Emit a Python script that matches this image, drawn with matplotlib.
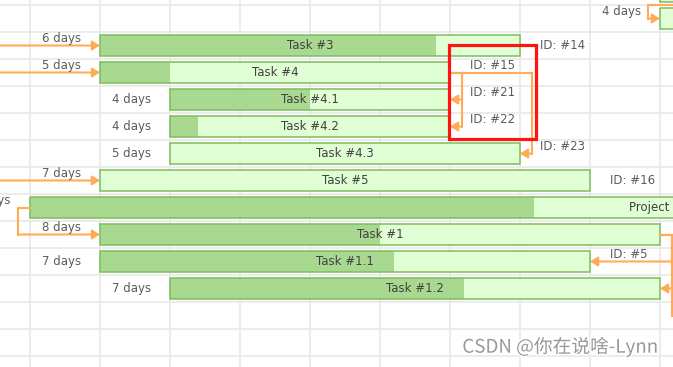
import matplotlib.pyplot as plt
import matplotlib.patheffects as pe
from matplotlib.patches import Rectangle

# Gantt data (one entry per row, row -1 and row 11 are mostly off-screen)
rows = list(range(-1, 12))
names = ['Task #2.1', 'Task #2.2', 'Task #3', 'Task #4', 'Task #4.1', 'Task #4.2',
         'Task #4.3', 'Task #5', 'Project #2', 'Task #1', 'Task #1.1', 'Task #1.2',
         'Task #1.3']
starts = [9, 9, 1, 1, 2, 2, 2, 1, 0, 1, 1, 2, 10]
durations = [3, 4, 6, 5, 4, 4, 5, 7, 18, 8, 7, 7, 3]
progress = [0.0, 0.0, 0.8, 0.2, 0.5, 0.1, 0.0, 0.0, 0.4, 0.5, 0.6, 0.6, 0.0]
ids = [12, 13, 14, 15, 21, 22, 23, 16, 1, 2, 5, 6, 7]

# links: (type, source index, target index)
links = [('fs', 0, 1), ('ff', 3, 4), ('ff', 3, 5), ('ff', 3, 6),
         ('ss', 8, 9), ('ff', 9, 10), ('ff', 9, 11), ('fs', 9, 12)]
# tasks with an incoming link from a task left of the view
left_in = [2, 3, 7]

# highlighted region (days, rows)
box_x = (5.99, 7.23)
box_y = (0.98, 4.46)

fill_c = '#e0ffd5'
prog_c = '#a9d991'
edge_c = '#7dbd5c'
link_c = '#ffab57'
grid_c = '#e9e9e9'

fig = plt.figure(figsize=(6.73, 3.67), dpi=100)
ax = fig.add_axes([0, 0, 1, 1])
x0, x1 = -30 / 70, 643 / 70
y0, y1 = -5 / 27 - 0.5, 362 / 27 - 0.5
ax.set_xlim(x0, x1)
ax.set_ylim(y1, y0)
ax.axis('off')

# grid
for d in range(0, 10):
    ax.axvline(d, color=grid_c, lw=1.2, zorder=0)
for r in range(-1, 13):
    ax.axhline(r + 0.5, color=grid_c, lw=1.2, zorder=0)

# bars
h = 0.78
ends = [s + d for s, d in zip(starts, durations)]
ax.barh(rows, durations, left=starts, height=h, color=fill_c, lw=0, zorder=2)
ax.barh(rows, [d * p for d, p in zip(durations, progress)], left=starts,
        height=h, color=prog_c, lw=0, zorder=2)
ax.barh(rows, durations, left=starts, height=h, fill=False, edgecolor=edge_c,
        lw=1.1, zorder=3)

# links
gap = 12 / 70
left_raise = set(left_in)
right_raise = set()


def draw_link(pts):
    xs = [p[0] for p in pts]
    ys = [p[1] for p in pts]
    ax.plot(xs[:-1], ys[:-1], color=link_c, lw=1.5, zorder=4,
            solid_joinstyle='miter')
    ax.annotate('', xy=pts[-1], xytext=pts[-2],
                arrowprops=dict(arrowstyle='-|>,head_length=0.45,head_width=0.28',
                                color=link_c, lw=1.5, shrinkA=0, shrinkB=0),
                zorder=4)


for kind, a, b in links:
    ya, yb = rows[a], rows[b]
    if kind == 'ff':
        xr = max(ends[a], ends[b]) + gap
        pts = [(ends[a], ya), (xr, ya), (xr, yb), (ends[b], yb)]
        right_raise.update([a, b])
    elif kind == 'ss':
        xr = min(starts[a], starts[b]) - gap
        pts = [(starts[a], ya), (xr, ya), (xr, yb), (starts[b], yb)]
        left_raise.update([a, b])
    else:
        xr = ends[a] + gap
        if starts[b] >= xr + gap:
            pts = [(ends[a], ya), (xr, ya), (xr, yb), (starts[b], yb)]
        else:
            ym = (ya + yb) / 2
            xl = starts[b] - gap
            pts = [(ends[a], ya), (xr, ya), (xr, ym), (xl, ym), (xl, yb),
                   (starts[b], yb)]
        right_raise.add(a)
        left_raise.add(b)
    draw_link(pts)

for i in left_in:
    draw_link([(-1, rows[i]), (starts[i], rows[i])])


def label(x, y, s, **kw):
    # labels whose anchor is outside the view are not visible in the chart
    if x0 <= x <= x1 and y0 <= y <= y1:
        ax.text(x, y, s, va='center', fontsize=8.5, zorder=5, clip_on=True, **kw)


lift = 7 / 27
for i, r in enumerate(rows):
    label(starts[i] + durations[i] / 2, r, names[i], ha='center', color='#404040')
    yl = r - lift if i in left_raise else r
    label(starts[i] - 19 / 70, yl, f'{durations[i]} days', ha='right',
          color='#5c5c5c')
    yr = r - lift if i in right_raise else r
    label(ends[i] + 20 / 70, yr, f'ID: #{ids[i]}', ha='left', color='#5c5c5c')

ax.add_patch(Rectangle((box_x[0], box_y[0]), box_x[1] - box_x[0],
                       box_y[1] - box_y[0], fill=False, edgecolor='#ff1414',
                       lw=2.3, zorder=6))

fig.text(0.978, 0.054, 'CSDN @你在说啥-Lynn', ha='right', va='center',
         fontsize=13.5, color='#999999',
         family=['Noto Sans CJK SC', 'DejaVu Sans'],
         path_effects=[pe.withStroke(linewidth=2, foreground='white')])

fig.savefig('out.png', dpi=100)
